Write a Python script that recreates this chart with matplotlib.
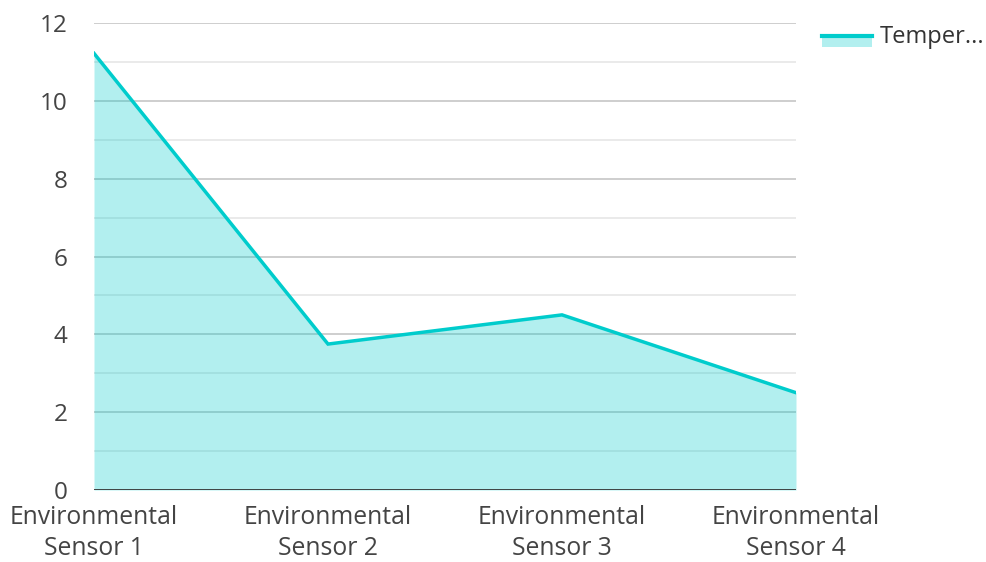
import matplotlib
matplotlib.use("Agg")
import matplotlib.pyplot as plt
from matplotlib.patches import Rectangle
from matplotlib.lines import Line2D

categories = ["Environmental\nSensor 1", "Environmental\nSensor 2",
              "Environmental\nSensor 3", "Environmental\nSensor 4"]
temperature = [11.22, 3.75, 4.5, 2.5]
series_name = "Temper..."
y_ticks = [0, 2, 4, 6, 8, 10, 12]

plt.rcParams['font.family'] = ['Open Sans', 'DejaVu Sans']

fig = plt.figure(figsize=(9.86, 5.62), dpi=100)
ax = fig.add_axes([94/986, 72/562, (796-94)/986, (490-23)/562])

x = list(range(len(categories)))
line_color = "#00cccc"

for v in range(1, 12, 2):
    ax.axhline(v, color="#e6e6e6", lw=1.2, zorder=0)
for v in y_ticks[1:]:
    ax.axhline(v, color="#c6c6c6", lw=1.2, zorder=0)

ax.fill_between(x, temperature, 0, color=line_color, alpha=0.3, lw=0, zorder=1)
ax.plot(x, temperature, color=line_color, lw=2.5, zorder=3, solid_joinstyle='miter')
ax.axhline(0, color="#333333", lw=2, zorder=4)

ax.set_xlim(0, 3)
ax.set_ylim(0, 12)
ax.set_yticks(y_ticks)
ax.set_xticks(x)
ax.set_xticklabels(categories, linespacing=1.3)
ax.tick_params(axis='both', length=0, labelsize=17.5, labelcolor="#444444")
ax.tick_params(axis='x', labelsize=17.8, pad=11)
ax.tick_params(axis='y', pad=19)
for s in ax.spines.values():
    s.set_visible(False)

# legend
fig.patches.append(Rectangle((822/986, 1-47/562), 50/986, 11/562,
                             transform=fig.transFigure, color=line_color, alpha=0.3, lw=0))
fig.lines.append(Line2D([822/986, 872/986], [1-36/562, 1-36/562],
                        transform=fig.transFigure, color=line_color, lw=3))
fig.text(880/986, 1-37/562, series_name, fontsize=17, color="#333333", va='center')

fig.savefig("out.png", dpi=100)
